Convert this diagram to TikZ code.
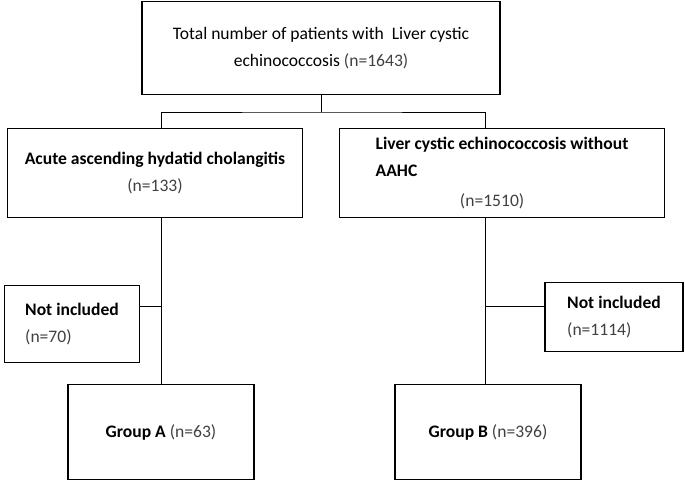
\documentclass[tikz,border=0pt]{standalone}
\usepackage{fontspec}
\setmainfont{Carlito}
\begin{document}
\begin{tikzpicture}[x=0.02cm,y=-0.02cm,
    box/.style={draw,thick,align=center,inner sep=0pt,font=\fontsize{10}{15}\selectfont}]
            \useasboundingbox (0,0) rectangle (685,484);
            % boxes
            \node[box,minimum width=358*0.02cm,minimum height=93*0.02cm] (total) at (321,48)
            {Total number of patients with \ Liver cystic\\ echinococcosis {\color{black!75}(n=1643)}};
            \node[box,minimum width=295*0.02cm,minimum height=89*0.02cm] (aahc) at (155,173)
            {\textbf{Acute ascending hydatid cholangitis}\\ {\color{black!75}(n=133)}};
            \node[box,minimum width=325*0.02cm,minimum height=89*0.02cm,align=left] (noaahc) at (502,173)
            {\textbf{Liver cystic echinococcosis without}\\ \textbf{AAHC}\\[2pt] \hspace*{4.8em}{\color{black!75}(n=1510)}};
            \node[box,minimum width=135*0.02cm,minimum height=77*0.02cm,align=left] (notA) at (72,324)
            {\textbf{Not included}\\ {\color{black!75}(n=70)}};
            \node[box,minimum width=138*0.02cm,minimum height=69*0.02cm,align=left] (notB) at (614,317)
            {\textbf{Not included}\\ {\color{black!75}(n=1114)}};
            \node[box,minimum width=186*0.02cm,minimum height=95*0.02cm] (grpA) at (161,432)
            {\textbf{Group A} {\color{black!75}(n=63)}};
            \node[box,minimum width=186*0.02cm,minimum height=95*0.02cm] (grpB) at (488,432)
            {\textbf{Group B} {\color{black!75}(n=396)}};

            % connectors
            \coordinate (split) at (321,112);
            \coordinate (jA) at (161,306); \coordinate (jB) at (485,306);
            \draw (total) -- (split);
            \draw (161,129) |- (split) -| (485,129);
            \draw (161,218) -- (grpA.north -| jA);
            \draw (485,218) -- (grpB.north -| jB);
            \draw (jA) -- (notA.east |- jA);
            \draw (jB) -- (notB.west |- jB);
\end{tikzpicture}
\end{document}
